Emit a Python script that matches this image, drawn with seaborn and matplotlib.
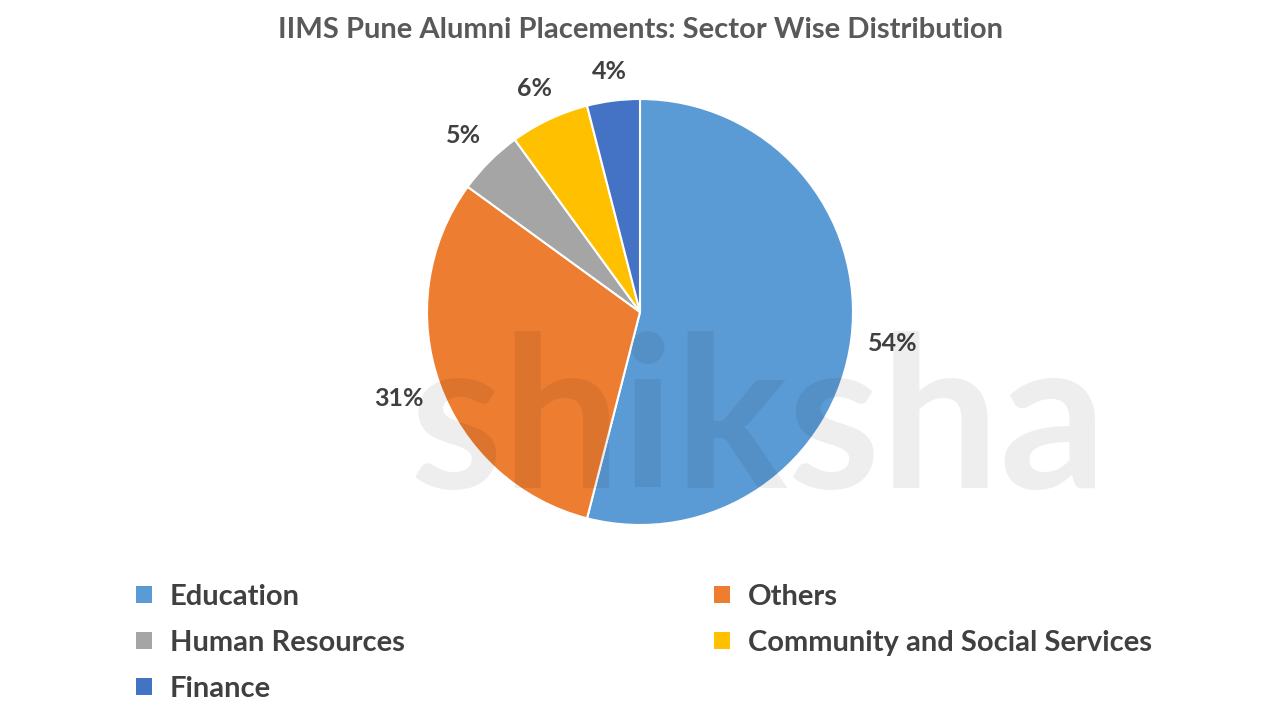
"""IIMS Pune alumni placements: sector-wise pie chart."""
import matplotlib
matplotlib.use("Agg")
import numpy as np
import matplotlib.pyplot as plt
from matplotlib.patches import Patch
import seaborn as sns

sectors = ["Education", "Others", "Human Resources", "Community and Social Services", "Finance"]
shares = [54, 31, 5, 6, 4]
colors = ["#5B9BD5", "#ED7D31", "#A5A5A5", "#FFC000", "#4472C4"]

sns.set_theme(style="white")
plt.rcParams["font.family"] = ["Lato", "DejaVu Sans"]

TEXT = "#404040"
TITLE = "#595959"
R_PX = 213

fig = plt.figure(figsize=(12.8, 7.2), dpi=100, facecolor="white")
ax = fig.add_axes([(640 - R_PX) / 1280, (720 - 312 - R_PX) / 720, 2 * R_PX / 1280, 2 * R_PX / 720])

wedges, texts = ax.pie(
    shares,
    colors=colors,
    startangle=90,
    counterclock=False,
    labels=[f"{v}%" for v in shares],
    labeldistance=1.2,
    wedgeprops={"edgecolor": "white", "linewidth": 1.5},
    textprops={"fontsize": 18, "fontweight": "bold", "color": TEXT},
)
ax.set_xlim(-1, 1)
ax.set_ylim(-1, 1)
ax.set_aspect("equal")

# place labels like Excel "outside end": fixed gap between circle and label box
renderer = fig.canvas.get_renderer()
gap = 16 / R_PX
for w, t in zip(wedges, texts):
    t.set_ha("center")
    t.set_va("center")
    ang = np.deg2rad((w.theta1 + w.theta2) / 2)
    cx, cy = np.cos(ang), np.sin(ang)
    bb = t.get_window_extent(renderer)
    hw, hh = bb.width / 2 / R_PX, bb.height / 2 / R_PX
    d = 1 + gap + abs(cx) * hw + abs(cy) * hh
    t.set_position((d * cx, d * cy))

# faint watermark
fig.text(410 / 1280, 1 - 488 / 720, "shiksha", fontsize=152, fontweight="bold",
         color="black", alpha=0.065, ha="left", va="baseline", zorder=10)

fig.text(0.5, 1 - 30 / 720, "IIMS Pune Alumni Placements: Sector Wise Distribution",
         ha="center", va="center", fontsize=21, fontweight="bold", color=TITLE)

# legend: column-first fill, so reorder for row-major reading
order = [0, 2, 4, 1, 3]
handles = [Patch(facecolor=colors[i], edgecolor="none") for i in order]
labels = [sectors[i] for i in order]
leg = fig.legend(
    handles, labels, ncol=2, mode="expand", frameon=False,
    loc="upper left",
    bbox_to_anchor=(136 / 1280, 1 - 584 / 720, (1152 - 136) / 1280, 0),
    borderaxespad=0, borderpad=0,
    handlelength=0.55, handleheight=0.55, handletextpad=0.6,
    labelspacing=0.68, fontsize=21,
)
for t in leg.get_texts():
    t.set_color(TEXT)
    t.set_fontweight("bold")

fig.savefig("out.png", dpi=100, facecolor="white")
